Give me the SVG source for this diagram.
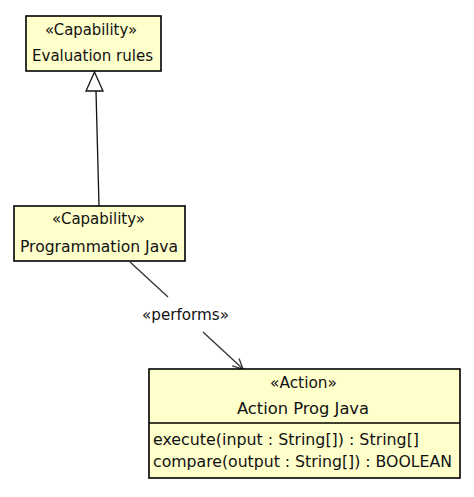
<svg xmlns="http://www.w3.org/2000/svg" width="474" height="497" viewBox="0 0 474 497">
<style>
.box{fill:#FFFFCC;stroke:#000;stroke-width:1.6}
.t{font-family:"DejaVu Sans",sans-serif;font-size:16px;fill:#111}
.c{text-anchor:middle}
.ln{stroke:#333;stroke-width:1.3;fill:none}
</style>
<defs>
<marker id="open" viewBox="0 0 12 12" refX="11" refY="6" markerWidth="12" markerHeight="12" markerUnits="userSpaceOnUse" orient="auto">
<path d="M1,1 L11,6 L1,11" fill="none" stroke="#333" stroke-width="1.3"/>
</marker>
</defs>
<g id="connectors">
<line class="ln" x1="96" y1="91" x2="99" y2="206" style="stroke:#111"/>
<polygon points="94.5,72 86,91 103,91" fill="#fff" stroke="#111" stroke-width="1.3"/>
<line class="ln" x1="130" y1="262" x2="168" y2="297"/>
<line class="ln" x1="203" y1="332" x2="243" y2="369" marker-end="url(#open)"/>
<text class="t c" x="185.5" y="320" textLength="87" lengthAdjust="spacingAndGlyphs">«performs»</text>
</g>
<g id="evaluation-rules">
<rect class="box" x="26" y="16" width="135" height="55"/>
<text class="t c" x="91" y="35" textLength="92" lengthAdjust="spacingAndGlyphs">«Capability»</text>
<text class="t c" x="92.5" y="61" textLength="121" lengthAdjust="spacingAndGlyphs">Evaluation rules</text>
</g>
<g id="programmation-java">
<rect class="box" x="14" y="206" width="171" height="55"/>
<text class="t c" x="98.5" y="224" textLength="93" lengthAdjust="spacingAndGlyphs">«Capability»</text>
<text class="t c" x="99" y="252" textLength="158" lengthAdjust="spacingAndGlyphs">Programmation Java</text>
</g>
<g id="action-prog-java">
<rect class="box" x="149" y="369" width="311" height="109"/>
<line x1="149" y1="423" x2="460" y2="423" stroke="#000" stroke-width="1.3"/>
<text class="t c" x="303.5" y="388" textLength="67" lengthAdjust="spacingAndGlyphs">«Action»</text>
<text class="t c" x="303" y="414" textLength="132" lengthAdjust="spacingAndGlyphs">Action Prog Java</text>
<text class="t" x="153" y="445" textLength="266" lengthAdjust="spacingAndGlyphs">execute(input : String[]) : String[]</text>
<text class="t" x="153" y="467" textLength="299" lengthAdjust="spacingAndGlyphs">compare(output : String[]) : BOOLEAN</text>
</g>
</svg>
